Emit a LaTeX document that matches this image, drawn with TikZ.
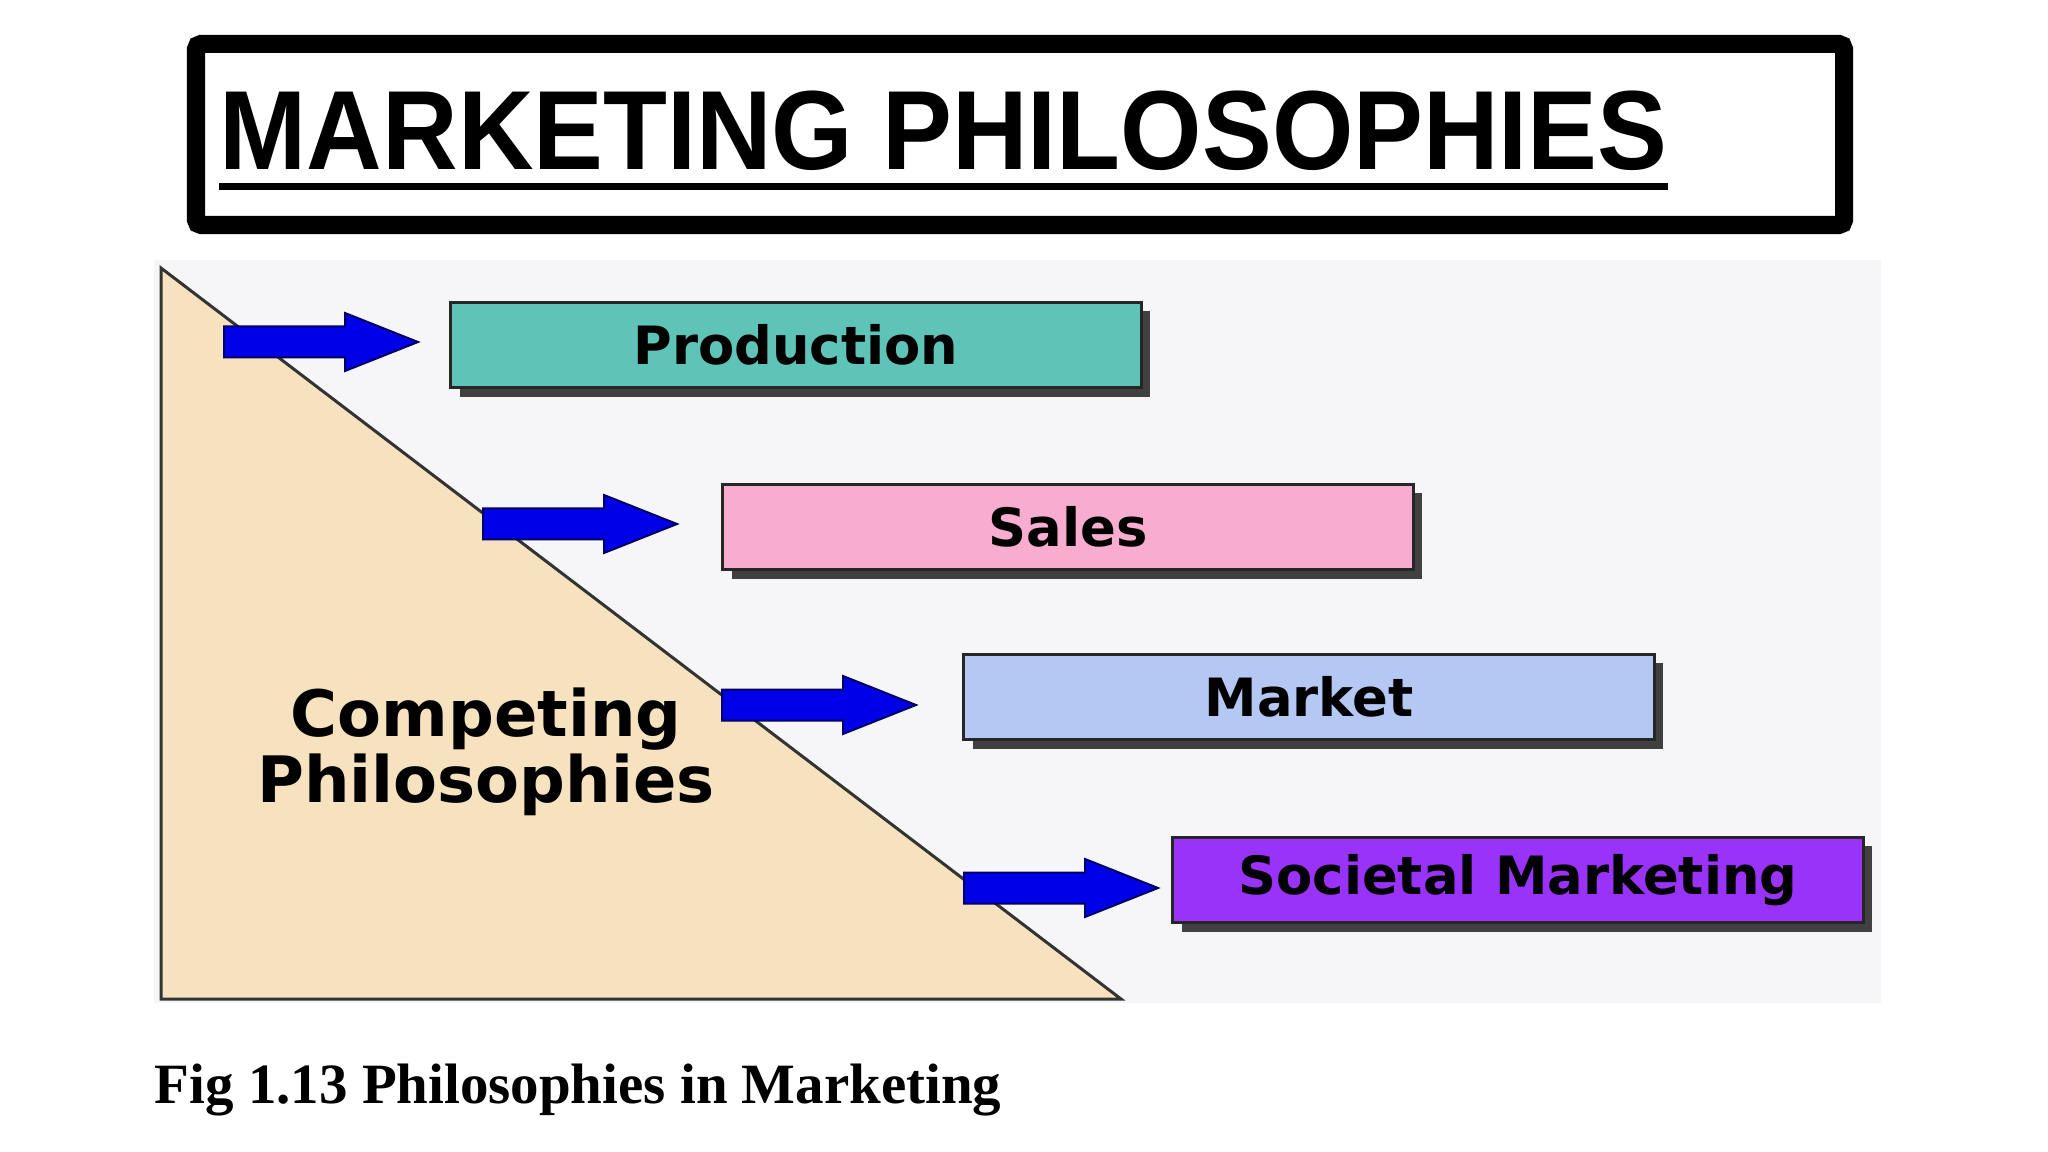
\documentclass[tikz,border=0pt]{standalone}
\usepackage{graphicx}
\usepackage{fontspec}
\setmainfont{Liberation Sans}
\newfontfamily\boxfont{DejaVu Sans}
\newfontfamily\figfont{Liberation Serif}
\usepackage{tikz}
\usetikzlibrary{shadows}
\usepackage{xcolor}
\definecolor{prodteal}{RGB}{94,196,184}
\definecolor{salespink}{RGB}{247,172,208}
\definecolor{marketblue}{RGB}{180,200,243}
\definecolor{socpurple}{RGB}{153,51,250}
\definecolor{wedgetan}{RGB}{246,226,190}
\definecolor{arrowblue}{RGB}{0,0,232}
\definecolor{panelgrey}{RGB}{246,246,248}
\tikzstyle{concept} = [draw=black!85, line width=0.03cm, minimum width=6.9cm, minimum height=0.85cm, inner sep=0pt, font=\boxfont\bfseries\fontsize{15}{18}\selectfont, drop shadow={shadow xshift=0.09cm, shadow yshift=-0.09cm, fill=black!75, opacity=1}]
\tikzstyle{fatarrow} = [draw=blue!40!black, line width=0.02cm, fill=arrowblue]
\newcommand{\blockarrow}[1]{\draw[fatarrow, shift={#1}] (0,-15.5) -- (121,-15.5) -- (121,-29) -- (194,0) -- (121,29) -- (121,15.5) -- (0,15.5) -- cycle;}

\begin{document}
\begin{tikzpicture}[x=0.01cm, y=-0.01cm]
\useasboundingbox (0,0) rectangle (2048,1152);
\fill[white] (0,0) rectangle (2048,1152);

% heading
\draw[line width=0.18cm, rounded corners=0.05cm] (196,44) rectangle (1844,225);
\node[anchor=base west, inner sep=0pt, font=\bfseries\fontsize{32}{36}\selectfont] (title) at (219,170) {\scalebox{0.93}[1]{MARKETING PHILOSOPHIES}};
\draw[line width=0.07cm] ([yshift=-0.16cm]title.base west) -- ([yshift=-0.16cm]title.base east);

% diagram
\fill[panelgrey] (154,260) rectangle (1881,1003);
\draw[fill=wedgetan, draw=black!80, line width=0.03cm] (161,268) -- (1121,999) -- (161,999) -- cycle;
\node[align=center, font=\boxfont\bfseries\fontsize{18.2}{16.8}\selectfont] (compete) at (486,752) {Competing\\Philosophies};

\node[concept, fill=prodteal] (prod) at (796,345) {Production};
\node[concept, fill=salespink] (sales) at (1068,527) {Sales};
\node[concept, fill=marketblue] (market) at (1309,697) {Market};
\node[concept, fill=socpurple] (societal) at (1518,880) {Societal Marketing};

\blockarrow{(224,342)}
\blockarrow{(483,524)}
\blockarrow{(722,705)}
\blockarrow{(964,888)}

\node[anchor=base west, inner sep=0pt, font=\figfont\bfseries\fontsize{16.2}{19}\selectfont] (caption) at (154,1103) {Fig 1.13 Philosophies in Marketing};
\end{tikzpicture}
\end{document}
